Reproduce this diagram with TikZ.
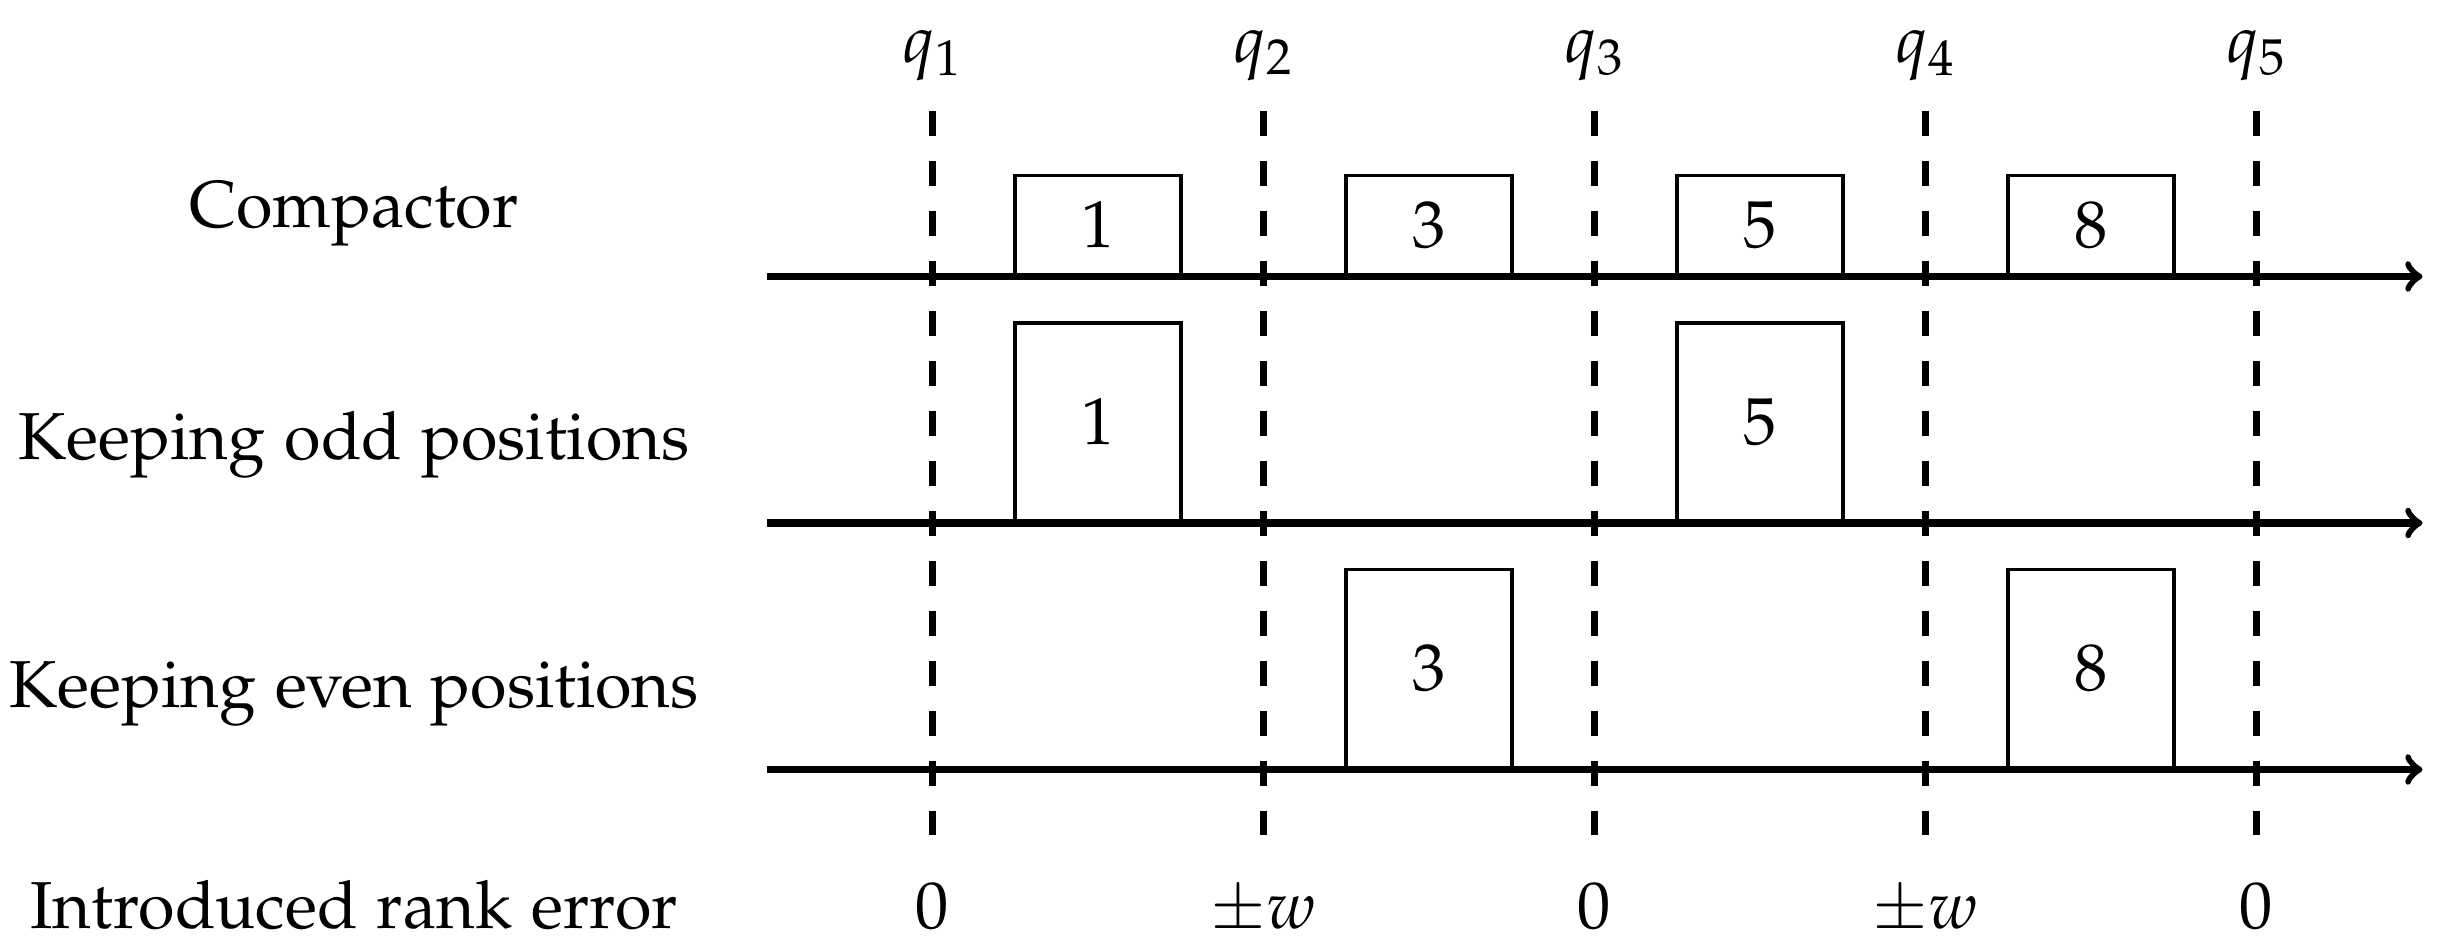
\documentclass[tikz,border=0pt]{standalone}
\usepackage[T1]{fontenc}
\usepackage{mathpazo}
\begin{document}
\begin{tikzpicture}[
  font=\fontencoding{T1}\fontfamily{pplx}\fontsize{18.9}{22}\selectfont,
  axisline/.style={line width=2pt,->},
  qline/.style={line width=1.9pt,dash pattern=on 0.25cm off 0.25cm},
  cell/.style={draw,line width=1.1pt,minimum width=1.655cm,inner sep=0pt,anchor=south},
  short/.style={cell,minimum height=0.99cm},
  tall/.style={cell,minimum height=1.98cm},
  lbl/.style={anchor=base}
]
\useasboundingbox (0,0) rectangle (24.37,9.5);

% dashed quantile lines
\foreach \i/\x in {1/9.325,2/12.635,3/15.945,4/19.255,5/22.565}{
  \coordinate (t\i) at (\x,8.393);
  \coordinate (b\i) at (\x,1.15);
  \draw[qline] (t\i) -- (b\i);
  \node[lbl] (q\i) at (\x,8.87) {$q_{\i}$};
}

% axes
\coordinate (s1) at (7.67,6.735);  \coordinate (e1) at (24.225,6.735);
\coordinate (s2) at (7.67,4.27);   \coordinate (e2) at (24.225,4.27);
\coordinate (s3) at (7.67,1.805);  \coordinate (e3) at (24.225,1.805);
\draw[axisline] (s1) -- (e1);
\draw[axisline] (s2) -- (e2);
\draw[axisline] (s3) -- (e3);

% compactor row
\node[short] (c1) at (10.98,6.735) {1};
\node[short] (c3) at (14.29,6.735) {3};
\node[short] (c5) at (17.60,6.735) {5};
\node[short] (c8) at (20.91,6.735) {8};

% odd row
\node[tall] (o1) at (10.98,4.27) {1};
\node[tall] (o5) at (17.60,4.27) {5};

% even row
\node[tall] (v3) at (14.29,1.805) {3};
\node[tall] (v8) at (20.91,1.805) {8};

% row labels
\node[lbl] (L1) at (3.54,7.22) {Compactor};
\node[lbl] (L2) at (3.54,4.90) {Keeping odd positions};
\node[lbl] (L3) at (3.54,2.42) {Keeping even positions};
\node[lbl] (L4) at (3.54,0.22) {Introduced rank error};

% rank errors
\node[lbl] (r1) at (9.325,0.22) {$0$};
\node[lbl] (r2) at (12.635,0.22) {$\pm w$};
\node[lbl] (r3) at (15.945,0.22) {$0$};
\node[lbl] (r4) at (19.255,0.22) {$\pm w$};
\node[lbl] (r5) at (22.565,0.22) {$0$};
\end{tikzpicture}
\end{document}
